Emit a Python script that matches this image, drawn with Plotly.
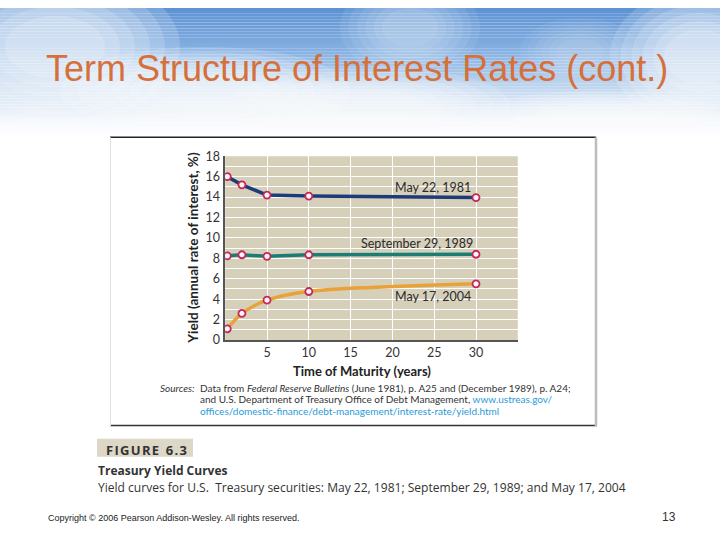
import plotly.graph_objects as go

# ---------------- data ----------------
maturity = [0.25, 2, 5, 10, 30]
yield_1981 = [16.0, 15.2, 14.2, 14.1, 13.95]
yield_1989 = [8.25, 8.35, 8.2, 8.35, 8.4]
yield_2004 = [1.1, 2.6, 3.9, 4.75, 5.5]
series_names = ["May 22, 1981", "September 29, 1989", "May 17, 2004"]
x_ticks = [5, 10, 15, 20, 25, 30]
y_ticks = [0, 2, 4, 6, 8, 10, 12, 14, 16, 18]

W, H = 720, 540
def px(x):
    return x / W
def py(y):
    return 1 - y / H

fig = go.Figure()

line_colors = ["#1d3b78", "#1b7d74", "#e9a13a"]
shapes_l = ["linear", "linear", "spline"]
for name, ys, col, shp in zip(series_names, [yield_1981, yield_1989, yield_2004], line_colors, shapes_l):
    fig.add_trace(go.Scatter(
        x=maturity, y=ys, name=name, mode="lines+markers",
        line=dict(color=col, width=3.5, shape=shp, smoothing=0.8),
        marker=dict(size=7, color="#fff4f6", line=dict(color="#c2285a", width=1.8)),
        showlegend=False, hoverinfo="x+y"))

shapes = []
# sky gradient
def lerp(a, b, t):
    return tuple(int(round(a[i] + (b[i] - a[i]) * t)) for i in range(3))
stops = [(0, (92, 146, 210)), (45, (135, 177, 226)), (85, (198, 218, 240)), (115, (244, 247, 252)), (132, (255, 255, 255))]
step = 3
for y0 in range(0, 132, step):
    yc = y0 + step / 2
    for (ya, ca), (yb, cb) in zip(stops[:-1], stops[1:]):
        if ya <= yc <= yb:
            c = lerp(ca, cb, (yc - ya) / (yb - ya))
            break
    shapes.append(dict(type="rect", xref="paper", yref="paper", x0=0, x1=1,
                       y0=py(y0 + step), y1=py(y0), fillcolor="rgb(%d,%d,%d)" % c,
                       line=dict(width=0), layer="below"))
# soft clouds (concentric translucent ellipses)
clouds = [(-70, -40, 180, 120, 0.6), (60, 40, 350, 130, 0.6), (230, 60, 510, 140, 0.55),
          (610, -20, 790, 120, 0.6), (470, 85, 730, 140, 0.55), (340, -30, 480, 70, 0.3),
          (520, 10, 640, 80, 0.2)]
n_layers = 6
for x0, y0, x1, y1, op in clouds:
    cx, cy = (x0 + x1) / 2, (y0 + y1) / 2
    hw, hh = (x1 - x0) / 2, (y1 - y0) / 2
    for k in range(n_layers):
        f = 1 - k * 0.12
        shapes.append(dict(type="circle", xref="paper", yref="paper",
                           x0=px(cx - hw * f), x1=px(cx + hw * f),
                           y0=py(cy + hh * f), y1=py(cy - hh * f), fillcolor="white",
                           opacity=op / n_layers * 1.6, line=dict(width=0), layer="below"))
# figure panel
shapes.append(dict(type="rect", xref="paper", yref="paper", x0=px(110), x1=px(596),
                   y0=py(430), y1=py(133), fillcolor="white", line=dict(width=0), layer="below"))
shapes.append(dict(type="line", xref="paper", yref="paper", x0=px(110), x1=px(596),
                   y0=py(133), y1=py(133), line=dict(color="#222", width=1.5), layer="below"))
shapes.append(dict(type="line", xref="paper", yref="paper", x0=px(110), x1=px(597),
                   y0=py(429.5), y1=py(429.5), line=dict(color="#333", width=1.5), layer="below"))
shapes.append(dict(type="line", xref="paper", yref="paper", x0=px(596), x1=px(596),
                   y0=py(430), y1=py(133), line=dict(color="#bdbdbd", width=2.5), layer="below"))
shapes.append(dict(type="line", xref="paper", yref="paper", x0=px(110.5), x1=px(110.5),
                   y0=py(430), y1=py(133), line=dict(color="#e2e2e2", width=1), layer="below"))
# plot background (tan)
shapes.append(dict(type="rect", xref="x domain", yref="y domain", x0=0, x1=1, y0=0, y1=1,
                   fillcolor="#d6d0ba", line=dict(width=0), layer="below"))
# figure label box
shapes.append(dict(type="rect", xref="paper", yref="paper", x0=px(97), x1=px(193),
                   y0=py(461.5), y1=py(443), fillcolor="#ddd7c6", line=dict(width=0), layer="below"))

chart_font = "Lato, 'DejaVu Sans', sans-serif"
ann = []
def add(x, y, text, font, xanchor="center", yanchor="middle", **kw):
    ann.append(dict(x=x, y=y, text=text, showarrow=False, font=font,
                    xanchor=xanchor, yanchor=yanchor, **kw))

# line labels
label_pos = [(24.9, 14.95), (23.0, 9.5), (24.9, 4.24)]
for name, (lx, ly) in zip(series_names, label_pos):
    add(lx, ly, name, dict(family=chart_font, size=12.5, color="#2b2b2b"), xref="x", yref="y")
# axis titles
add(px(193), py(246.5), "<b>Yield (annual rate of interest, %)</b>",
    dict(family=chart_font, size=13.5, color="#222"), xref="paper", yref="paper", textangle=-90)
add(px(362), py(373), "<b>Time of Maturity (years)</b>",
    dict(family=chart_font, size=13, color="#222"), xref="paper", yref="paper")
# sources
src_font = dict(family=chart_font, size=10, color="#333")
add(px(197), py(391), "<i>Sources:</i>", src_font, xanchor="right", xref="paper", yref="paper")
src_lines = [
    "Data from <i>Federal Reserve Bulletins</i> (June 1981), p. A25 and (December 1989), p. A24;",
    "and U.S. Department of Treasury Office of Debt Management, <span style='color:#2a9ad8'>www.ustreas.gov/</span>",
    "<span style='color:#2a9ad8'>offices/domestic-finance/debt-management/interest-rate/yield.html</span>",
]
for i, t in enumerate(src_lines):
    add(px(198), py(391 + 11.5 * i), t, src_font, xanchor="left", xref="paper", yref="paper")
# caption
cap_font = "'Open Sans', 'Noto Sans', sans-serif"
hs = "\u200a"
add(px(104), py(455), "<b>" + hs.join("FIGURE") + "  " + hs.join("6.3") + "</b>",
    dict(family=cap_font, size=13, color="#333"), xanchor="left", xref="paper", yref="paper")
add(px(96), py(476), "<b>Treasury Yield Curves</b>",
    dict(family=cap_font, size=12, color="#333"), xanchor="left", xref="paper", yref="paper")
add(px(96), py(493),
    "Yield curves for U.S.  Treasury securities: May 22, 1981; September 29, 1989; and May 17, 2004",
    dict(family=cap_font, size=12.05, color="#333"), xanchor="left", xref="paper", yref="paper")
# slide title, copyright, page number
add(px(356.5), py(62), "Term Structure of Interest Rates (cont.)",
    dict(family="'Liberation Sans', Arial, sans-serif", size=36, color="#d6703a"),
    xref="paper", yref="paper")
add(px(46), py(525), "Copyright © 2006 Pearson Addison-Wesley. All rights reserved.",
    dict(family="'Liberation Sans', Arial, sans-serif", size=9, color="#222"),
    xanchor="left", xref="paper", yref="paper")
add(px(669), py(524), "13",
    dict(family="'Liberation Sans', Arial, sans-serif", size=12, color="#333"),
    xref="paper", yref="paper")

fig.update_layout(
    width=W, height=H, margin=dict(l=0, r=0, t=0, b=0),
    paper_bgcolor="white", plot_bgcolor="rgba(0,0,0,0)",
    shapes=shapes, annotations=ann,
    xaxis=dict(domain=[px(225.2), px(517.8)], range=[0, 35], tickvals=x_ticks,
               showgrid=True, gridcolor="white", gridwidth=1, zeroline=False,
               showline=True, linecolor="#555", linewidth=1.5, ticks="",
               tickfont=dict(family=chart_font, size=12.5, color="#333")),
    yaxis=dict(domain=[py(341.5), py(152.5)], range=[0, 18], tickvals=y_ticks,
               showgrid=True, gridcolor="white", gridwidth=1, zeroline=False,
               showline=True, linecolor="#555", linewidth=1.5, ticks="",
               ticklabelstandoff=1,
               minor=dict(dtick=1, showgrid=True, gridcolor="white", gridwidth=1),
               tickfont=dict(family=chart_font, size=12.5, color="#333")),
)

fig.write_html("out.html")
